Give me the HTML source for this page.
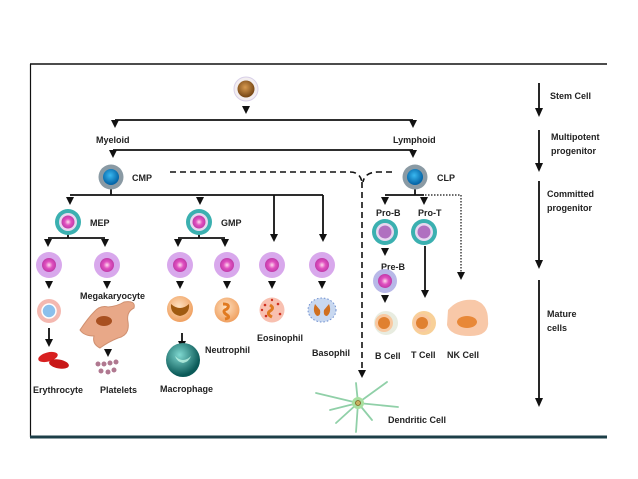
<!DOCTYPE html>
<html><head><meta charset="utf-8"><style>
html,body{margin:0;padding:0;background:#fff;}
svg{display:block;}
text{font-family:"Liberation Sans",Arial,sans-serif;font-weight:bold;font-size:9px;fill:#222;}
</style></head><body>
<svg width="638" height="479" viewBox="0 0 638 479" xmlns="http://www.w3.org/2000/svg">
<defs>
<marker id="a" markerWidth="8" markerHeight="8" refX="4" refY="7" orient="auto" markerUnits="userSpaceOnUse" viewBox="0 0 8 8">
</marker>
<radialGradient id="pink" cx="50%" cy="50%" r="50%"><stop offset="0" stop-color="#fde"/><stop offset="0.5" stop-color="#e050c0"/><stop offset="1" stop-color="#c03aa8"/></radialGradient>
<radialGradient id="brown" cx="45%" cy="40%" r="55%"><stop offset="0" stop-color="#d89a50"/><stop offset="1" stop-color="#7a4a18"/></radialGradient>
<radialGradient id="blue" cx="45%" cy="40%" r="55%"><stop offset="0" stop-color="#3ab8f0"/><stop offset="1" stop-color="#0566a8"/></radialGradient>
<radialGradient id="orange" cx="45%" cy="40%" r="60%"><stop offset="0" stop-color="#fde0c0"/><stop offset="1" stop-color="#f0a060"/></radialGradient>
<radialGradient id="teal" cx="40%" cy="35%" r="60%"><stop offset="0" stop-color="#7fd8d0"/><stop offset="1" stop-color="#0b5a58"/></radialGradient>
</defs>
<!-- frame -->
<line x1="30" y1="64" x2="607" y2="64" stroke="#111" stroke-width="1.5"/>
<line x1="30.5" y1="64" x2="30.5" y2="437" stroke="#111" stroke-width="1.2"/>
<line x1="30" y1="437" x2="607" y2="437" stroke="#1d3f48" stroke-width="3"/>

<g stroke="#111" stroke-width="1.8" fill="none">
<!-- main tree lines -->
<line x1="115" y1="120" x2="413" y2="120"/>
<line x1="113" y1="150" x2="413" y2="150"/>
<line x1="111" y1="189" x2="111" y2="195"/>
<line x1="70" y1="195" x2="323" y2="195"/>
<line x1="274" y1="195" x2="274" y2="236"/>
<line x1="323" y1="195" x2="323" y2="236"/>
<line x1="68" y1="234" x2="68" y2="238"/>
<line x1="48" y1="238" x2="105" y2="238"/>
<line x1="199" y1="234" x2="199" y2="238"/>
<line x1="178" y1="238" x2="225" y2="238"/>
<line x1="49" y1="328" x2="49" y2="340"/>
<line x1="182" y1="333" x2="182" y2="342"/>
<line x1="415" y1="189" x2="415" y2="195"/>
<line x1="385" y1="195" x2="424" y2="195"/>
<line x1="425" y1="246" x2="425" y2="292"/>
</g>
<!-- dashed -->
<g stroke="#111" stroke-width="1.6" fill="none" stroke-dasharray="6,4">
<path d="M170 172 H350 Q360 172 362 182"/>
<path d="M392 172 H378 Q365 172 363 182"/>
<line x1="362" y1="182" x2="362" y2="372"/>
</g>
<g stroke="#111" stroke-width="1.2" fill="none" stroke-dasharray="1.5,1.5">
<path d="M425 195 H461 V272"/>
</g>
<!-- arrowheads -->
<g fill="#111">
<path d="M242 106 h8 l-4 8z"/>
<path d="M111 120 h8 l-4 8z"/>
<path d="M409 120 h8 l-4 8z"/>
<path d="M109 150 h8 l-4 8z"/>
<path d="M409 150 h8 l-4 8z"/>
<path d="M66 197 h8 l-4 8z"/>
<path d="M196 197 h8 l-4 8z"/>
<path d="M270 234 h8 l-4 8z"/>
<path d="M319 234 h8 l-4 8z"/>
<path d="M44 239 h8 l-4 8z"/>
<path d="M101 239 h8 l-4 8z"/>
<path d="M174 239 h8 l-4 8z"/>
<path d="M221 239 h8 l-4 8z"/>
<path d="M45 281 h8 l-4 8z"/>
<path d="M103 281 h8 l-4 8z"/>
<path d="M176 281 h8 l-4 8z"/>
<path d="M223 281 h8 l-4 8z"/>
<path d="M268 281 h8 l-4 8z"/>
<path d="M318 281 h8 l-4 8z"/>
<path d="M45 339 h8 l-4 8z"/>
<path d="M104 349 h8 l-4 8z"/>
<path d="M178 341 h8 l-4 8z"/>
<path d="M358 370 h8 l-4 8z"/>
<path d="M381 197 h8 l-4 8z"/>
<path d="M420 197 h8 l-4 8z"/>
<path d="M381 248 h8 l-4 8z"/>
<path d="M381 295 h8 l-4 8z"/>
<path d="M421 290 h8 l-4 8z"/>
<path d="M457 272 h8 l-4 8z"/>
</g>
<!-- right side scale arrows -->
<g stroke="#111" stroke-width="1.8">
<line x1="539" y1="83" x2="539" y2="110"/>
<line x1="539" y1="130" x2="539" y2="165"/>
<line x1="539" y1="181" x2="539" y2="262"/>
<line x1="539" y1="280" x2="539" y2="400"/>
</g>
<g fill="#111">
<path d="M535 108 h8 l-4 9z"/>
<path d="M535 163 h8 l-4 9z"/>
<path d="M535 260 h8 l-4 9z"/>
<path d="M535 398 h8 l-4 9z"/>
</g>
<text x="550" y="99">Stem Cell</text>
<text x="551" y="140">Multipotent</text>
<text x="551" y="154">progenitor</text>
<text x="547" y="197">Committed</text>
<text x="547" y="211">progenitor</text>
<text x="547" y="317">Mature</text>
<text x="547" y="331">cells</text>

<!-- cells -->
<circle cx="246" cy="89" r="12" fill="#f3eef0" stroke="#d8d0e8"/>
<circle cx="246" cy="89" r="8.5" fill="url(#brown)"/>
<text x="96" y="143">Myeloid</text>
<text x="393" y="143">Lymphoid</text>
<circle cx="111" cy="177" r="12.5" fill="#8a9aa4"/>
<circle cx="111" cy="177" r="8" fill="url(#blue)"/>
<text x="132" y="181">CMP</text>
<circle cx="415" cy="177" r="12.5" fill="#8a9aa4"/>
<circle cx="415" cy="177" r="8" fill="url(#blue)"/>
<text x="437" y="181">CLP</text>
<g>
<circle cx="68" cy="222" r="13" fill="#3bb0b0"/><circle cx="68" cy="222" r="9" fill="#e8d8f0"/><circle cx="68" cy="222" r="6.5" fill="url(#pink)"/>
<circle cx="199" cy="222" r="13" fill="#3bb0b0"/><circle cx="199" cy="222" r="9" fill="#e8d8f0"/><circle cx="199" cy="222" r="6.5" fill="url(#pink)"/>
<circle cx="385" cy="232" r="13" fill="#3bb0b0"/><circle cx="385" cy="232" r="9" fill="#e8d8f0"/><circle cx="385" cy="232" r="6.5" fill="#b070c0"/>
<circle cx="424" cy="232" r="13" fill="#3bb0b0"/><circle cx="424" cy="232" r="9" fill="#e8d8f0"/><circle cx="424" cy="232" r="6.5" fill="#b070c0"/>
</g>
<text x="90" y="226">MEP</text>
<text x="221" y="226">GMP</text>
<text x="376" y="216">Pro-B</text>
<text x="418" y="216">Pro-T</text>
<text x="381" y="270">Pre-B</text>
<circle cx="385" cy="281" r="12" fill="#b8b8e8"/><circle cx="385" cy="281" r="7" fill="url(#pink)"/>
<g>
<circle cx="49" cy="265" r="13" fill="#d8a8ec"/><circle cx="49" cy="265" r="7" fill="url(#pink)"/>
<circle cx="107" cy="265" r="13" fill="#d8a8ec"/><circle cx="107" cy="265" r="7" fill="url(#pink)"/>
<circle cx="180" cy="265" r="13" fill="#d8a8ec"/><circle cx="180" cy="265" r="7" fill="url(#pink)"/>
<circle cx="227" cy="265" r="13" fill="#d8a8ec"/><circle cx="227" cy="265" r="7" fill="url(#pink)"/>
<circle cx="272" cy="265" r="13" fill="#d8a8ec"/><circle cx="272" cy="265" r="7" fill="url(#pink)"/>
<circle cx="322" cy="265" r="13" fill="#d8a8ec"/><circle cx="322" cy="265" r="7" fill="url(#pink)"/>
</g>
<!-- row 3 -->
<circle cx="49" cy="311" r="12" fill="#f4b8b0"/><circle cx="49" cy="311" r="7" fill="#8cc0ec" stroke="#fff" stroke-width="1.5"/>
<text x="80" y="299">Megakaryocyte</text>
<path d="M80 330 Q88 318 94 312 Q100 305 108 307 Q118 306 124 302 Q136 300 134 308 Q126 312 128 322 Q130 335 118 338 Q108 342 100 348 Q92 344 94 336 Q84 336 80 330Z" fill="#e8a888" stroke="#d09070"/>
<ellipse cx="104" cy="321" rx="8" ry="5" fill="#a85020"/>
<circle cx="180" cy="309" r="13" fill="url(#orange)"/>
<path d="M171 304 Q180 312 189 304 Q190 314 180 316 Q170 314 171 304Z" fill="#a05a10"/>
<circle cx="227" cy="310" r="12.5" fill="url(#orange)"/>
<path d="M223 304 q8 0 4 5 q-6 2 0 6 q4 3 -2 4" stroke="#e07a20" stroke-width="3" fill="none"/>
<circle cx="272" cy="310" r="12.5" fill="#f8c0b0"/>
<g fill="#d03020"><circle cx="265" cy="305" r="1.3"/><circle cx="278" cy="304" r="1.3"/><circle cx="266" cy="316" r="1.3"/><circle cx="280" cy="314" r="1.3"/><circle cx="272" cy="300" r="1.2"/><circle cx="262" cy="310" r="1.2"/></g>
<path d="M270 305 q5 3 0 6 q-4 3 2 6" stroke="#e07a20" stroke-width="3" fill="none"/>
<ellipse cx="322" cy="310" rx="14" ry="12" fill="#c8d8f0" stroke="#7090d0" stroke-dasharray="1.5,2"/>
<path d="M315 304 q-3 8 2 12 q4 0 3 -6z M329 304 q3 8 -2 12 q-4 0 -3 -6z" fill="#d07020"/>
<text x="205" y="353">Neutrophil</text>
<text x="257" y="341">Eosinophil</text>
<text x="312" y="356">Basophil</text>
<!-- erythrocytes -->
<ellipse cx="48" cy="357" rx="10" ry="4.5" fill="#d82020" transform="rotate(-15 48 357)"/>
<ellipse cx="59" cy="364" rx="10" ry="4.5" fill="#c81818" transform="rotate(10 59 364)"/>
<g fill="#b07890"><circle cx="98" cy="364" r="2.5"/><circle cx="104" cy="364" r="2.5"/><circle cx="110" cy="363" r="2.5"/><circle cx="116" cy="362" r="2.5"/><circle cx="101" cy="371" r="2.5"/><circle cx="108" cy="372" r="2.5"/><circle cx="114" cy="370" r="2.5"/></g>
<circle cx="183" cy="360" r="17" fill="url(#teal)"/>
<path d="M175 356 q8 8 16 0 q-2 6 -8 7 q-6 -1 -8 -7z" fill="#cfe" opacity="0.7"/>
<text x="33" y="393">Erythrocyte</text>
<text x="100" y="393">Platelets</text>
<text x="160" y="392">Macrophage</text>
<!-- lymph mature -->
<circle cx="386" cy="323" r="12" fill="#e8ece0"/><circle cx="384" cy="323" r="9" fill="#f8c8a0"/><circle cx="384" cy="323" r="6" fill="#e08030"/>
<circle cx="424" cy="323" r="12" fill="#f8d098"/><circle cx="422" cy="323" r="9" fill="#f8c8a0"/><circle cx="422" cy="323" r="6" fill="#e08030"/>
<path d="M448 310 Q458 298 475 300 Q488 304 488 320 Q490 336 470 336 Q450 336 447 325Z" fill="#f8c8a8"/>
<ellipse cx="467" cy="322" rx="10" ry="6" fill="#e88838"/>
<text x="375" y="359">B Cell</text>
<text x="411" y="358">T Cell</text>
<text x="447" y="358">NK Cell</text>
<!-- dendritic -->
<g stroke="#90d0a8" stroke-width="1.8" stroke-linecap="round">
<line x1="358" y1="403" x2="316" y2="393"/><line x1="358" y1="403" x2="330" y2="410"/>
<line x1="358" y1="403" x2="336" y2="423"/><line x1="358" y1="403" x2="356" y2="383"/>
<line x1="358" y1="403" x2="387" y2="382"/><line x1="358" y1="403" x2="398" y2="407"/>
<line x1="358" y1="403" x2="356" y2="432"/><line x1="358" y1="403" x2="372" y2="420"/>
</g>
<circle cx="358" cy="403" r="6" fill="#a8e0a0"/><circle cx="358" cy="403" r="2.5" fill="#c8b060" stroke="#806020" stroke-width="0.8"/>
<text x="388" y="423">Dendritic  Cell</text>
</svg>
</body></html>
